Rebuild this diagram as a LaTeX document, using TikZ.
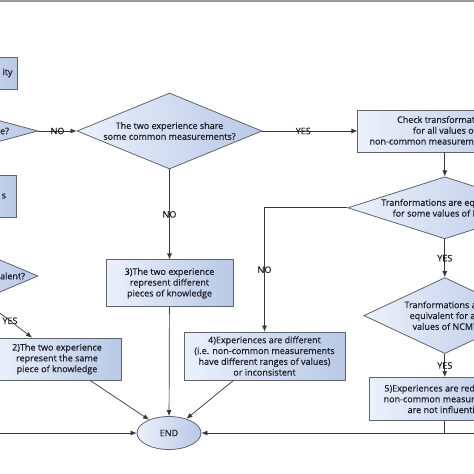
\documentclass[tikz,border=0pt]{standalone}
\usepackage{fontspec}
\newfontfamily\flowfont{Open Sans}[FakeBold=0.5]
\newcommand{\flowtext}{\flowfont\fontsize{9}{10.8}\selectfont}
\usetikzlibrary{shapes.geometric, positioning, arrows.meta}

\definecolor{boxlight}{RGB}{236,241,251}
\definecolor{boxdark}{RGB}{184,200,230}
\definecolor{boxline}{RGB}{95,100,112}
\definecolor{wiregray}{RGB}{55,55,55}
\definecolor{framegray}{RGB}{155,155,155}
\definecolor{inkgray}{RGB}{30,30,40}

\tikzset{
  every node/.style={font=\flowtext, text=inkgray},
  stepbox/.style={rectangle, draw=boxline, line width=0.8pt, left color=boxlight,
    right color=boxdark, align=center, inner xsep=3pt, inner ysep=2pt},
  query/.style={diamond, draw=boxline, line width=0.8pt, left color=boxlight,
    right color=boxdark, align=center, inner sep=0pt},
  stopnode/.style={ellipse, draw=boxline, line width=0.8pt, left color=boxlight,
    right color=boxdark, inner sep=0pt},
  wire/.style={draw=wiregray, line width=0.7pt, -{Latex[length=6pt,width=5pt]}},
  answer/.style={inner sep=1pt}
}

\begin{document}
\begin{tikzpicture}[x=1pt, y=-1pt]
    \useasboundingbox (0,0) rectangle (474,474);
    \clip (0,0) rectangle (474,474);
    \draw[framegray, line width=2.5pt] (0,1) -- (474,1);

    % left column, cut by the edge
    \node(bity)[stepbox, minimum width=97pt, minimum height=32pt, text width=88pt, align=right] at (-31.5,73) {ity};
    \node(dsame)[query, aspect=3.7, minimum width=156pt, minimum height=42pt, text width=98pt, align=right] at (-40,131) {e?};
    \node(bs)[stepbox, minimum width=96pt, minimum height=42pt, text width=76pt, align=right] at (-32,196) {s};
    \node(dequiv)[query, aspect=2.4, minimum width=156pt, minimum height=66pt, text width=130pt, align=right] at (-40,276) {alent?};
    \node(bsame)[stepbox, minimum width=128pt, minimum height=42pt] at (57,359)
      {2)The two experience\\represent the same\\piece of knowledge};
    \coordinate(yesfrom) at (-8,307);

    % middle
    \node(dshare)[query, aspect=2.43, minimum width=185pt, minimum height=76pt] at (169.5,131)
      {The two experience share\\some common measurements?};
    \node(bdiff)[stepbox, minimum width=127pt, minimum height=47pt, below=90pt of dshare]
      {3)The two experience\\represent different\\pieces of knowledge};
    \node(bincons)[stepbox, minimum width=161pt, minimum height=48pt] at (264.5,356)
      {4)Experiences are different\\(i.e. non-common measurements\\have different ranges of values)\\or inconsistent};
    \node(end)[stopnode, minimum width=64pt, minimum height=33pt] at (169,433) {END};

    % right column, cut by the edge
    \node(bcheck)[stepbox, minimum width=174pt, minimum height=42pt, right=95pt of dshare]
      {Check transformations\\for all values of\\non-common measurements (NCM)};
    \node(dsome)[query, aspect=3.1, inner xsep=-8pt, minimum width=194pt, minimum height=62pt, below=24pt of bcheck]
      {Tranformations are equivalent\\for some values of NCM?};
    \node(dall)[query, aspect=2.13, minimum width=162pt, minimum height=76pt, below=38pt of dsome]
      {Tranformations are\\equivalent for all\\values of NCM?};
    \node(bexp5)[stepbox, minimum width=150pt, minimum height=43pt, below=23pt of dall]
      {5)Experiences are redundant\\non-common measurements\\are not influential};
    \coordinate(fromleft) at (-5,433);
    \coordinate(fromright) at (480,433);

    \draw[wire] (dsame) -- node[answer]{NO} (dshare);
    \draw[wire] (dshare) -- node[answer, pos=0.43]{YES} (bcheck);
    \draw[wire] (dshare) -- node[answer]{NO} (bdiff);
    \draw[wire] (bcheck) -- (dsome);
    \draw[wire] (dsome) -- node[answer]{YES} (dall);
    \draw[wire] (dall) -- node[answer]{YES} (bexp5);
    \draw[wire] (dsome.west) -| node[answer, pos=0.75]{NO} (bincons.north);
    \draw[wire] (yesfrom) -- node[answer, pos=0.45]{YES} ([xshift=-25pt]bsame.north);

    \draw[wire] (fromleft) -- (end);
    \draw[wire] ([xshift=33pt]bsame.south) -- (end);
    \draw[wire] (bdiff) -- (end);
    \draw[wire] ([xshift=-31pt]bincons.south) -- (end);
    \draw[wire] (fromright) -- (end);
    \draw[draw=wiregray, line width=0.7pt] (bexp5.south) -- (bexp5.south |- fromright);
\end{tikzpicture}
\end{document}
